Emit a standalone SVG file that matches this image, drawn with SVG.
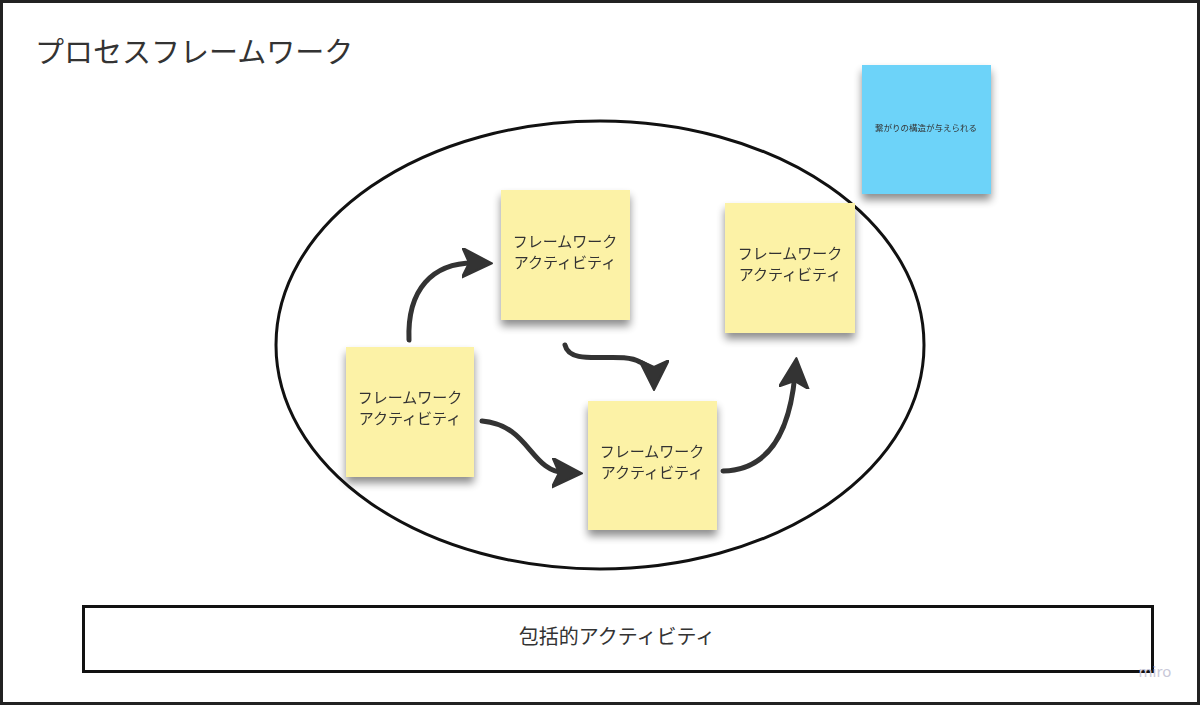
<svg xmlns="http://www.w3.org/2000/svg" width="1200" height="705" viewBox="0 0 1200 705">
<style>
.t{font-family:"Noto Sans CJK JP","Noto Sans",sans-serif;fill:#333;}
.note{fill:#fcf2a6;}
.lbl{font-size:15px;text-anchor:middle;}
.con{fill:none;stroke:#333;stroke-width:5;stroke-linecap:round;}
</style>
<defs>
<filter id="sh" x="-20%" y="-20%" width="140%" height="150%"><feGaussianBlur in="SourceAlpha" stdDeviation="4"/><feOffset dx="0" dy="6"/><feComponentTransfer><feFuncA type="linear" slope="0.45"/></feComponentTransfer><feMerge><feMergeNode/><feMergeNode in="SourceGraphic"/></feMerge></filter>
<marker id="ah" markerUnits="userSpaceOnUse" markerWidth="34" markerHeight="34" refX="14" refY="15" orient="auto"><path d="M0,0 L30,15 L0,30 L7,15 Z" fill="#333" stroke="#333" stroke-width="2" stroke-linejoin="round"/></marker>
</defs>
<rect x="1.5" y="1.5" width="1197" height="702" fill="#fff" stroke="#222" stroke-width="3"/>
<text class="t" x="35" y="63" font-size="29" font-weight="400">プロセスフレームワーク</text>
<ellipse cx="600" cy="345" rx="324" ry="224" fill="none" stroke="#111" stroke-width="3"/>
<g id="connectors">
<path class="con" d="M409,340 C407,290 432,262 476,263" marker-end="url(#ah)"/>
<path class="con" d="M565,345 C570,368 620,350 640,362 C652,368 654,370 654,374" marker-end="url(#ah)"/>
<path class="con" d="M482,421 C530,425 530,472 566,473" marker-end="url(#ah)"/>
<path class="con" d="M723,471 C770,470 790,430 795,374" marker-end="url(#ah)"/>
</g>
<g id="noteA" filter="url(#sh)"><rect class="note" x="346" y="347" width="128" height="130"/><text class="t lbl" x="410" y="403">フレームワーク</text><text class="t lbl" x="410" y="424">アクティビティ</text></g>
<g id="noteB" filter="url(#sh)"><rect class="note" x="501" y="190" width="129" height="130"/><text class="t lbl" x="565" y="247">フレームワーク</text><text class="t lbl" x="565" y="268">アクティビティ</text></g>
<g id="noteC" filter="url(#sh)"><rect class="note" x="588" y="401" width="129" height="129"/><text class="t lbl" x="652" y="457">フレームワーク</text><text class="t lbl" x="652" y="478">アクティビティ</text></g>
<g id="noteD" filter="url(#sh)"><rect class="note" x="725" y="203" width="130" height="130"/><text class="t lbl" x="790" y="259">フレームワーク</text><text class="t lbl" x="790" y="280">アクティビティ</text></g>
<g id="noteBlue" filter="url(#sh)"><rect x="862" y="65" width="129" height="129" fill="#6dd3f9"/><text class="t" x="926" y="131" font-size="8.5" text-anchor="middle">繋がりの構造が与えられる</text></g>
<g id="inclusive"><rect x="83.5" y="606.5" width="1069" height="65" fill="#fff" stroke="#111" stroke-width="3"/><text class="t" x="617" y="644" font-size="20" text-anchor="middle">包括的アクティビティ</text></g>
<text x="1155" y="677" font-family="Noto Sans,sans-serif" font-size="15" fill="#c8c8d8" text-anchor="middle">miro</text>
</svg>
